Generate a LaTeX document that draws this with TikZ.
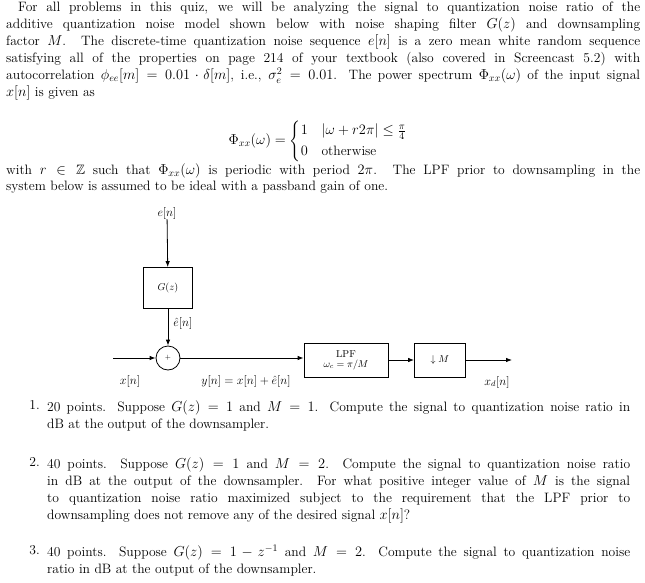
\documentclass[tikz,border=0pt]{standalone}
\usepackage{amsmath,amssymb}
\usetikzlibrary{arrows.meta}
\begin{document}
\begin{tikzpicture}[x=1pt,y=-1pt,
  txt/.style={anchor=north west,inner sep=0,align=justify,font=\fontsize{13.6}{17}\selectfont},
  blk/.style={draw,thick,minimum width=49pt,minimum height=41pt,inner sep=0},
  lab/.style={inner sep=0,font=\fontsize{11.5}{13}\selectfont},
  sig/.style={thick,-{Latex[length=6pt]}}]
\useasboundingbox (0,0) rectangle (645,583);
\node[txt,text width=634pt] (p1) at (6,2) {\hspace*{12pt}For all problems in this quiz, we will be analyzing the signal to quantization noise ratio of the\linebreak
additive quantization noise model shown below with noise shaping filter $G(z)$ and downsampling\linebreak
factor $M$. The discrete-time quantization noise sequence $e[n]$ is a zero mean white random sequence\linebreak
satisfying all of the properties on page 214 of your textbook (also covered in Screencast 5.2) with\linebreak
autocorrelation $\phi_{ee}[m]=0.01\cdot\delta[m]$, i.e., $\sigma_e^2=0.01$. The power spectrum $\Phi_{xx}(\omega)$ of the input signal\linebreak
$x[n]$ is given as};
\node[inner sep=0,font=\fontsize{13.6}{17}\selectfont] (eq) at (318,141) {$\Phi_{xx}(\omega)=\begin{cases}1 & |\omega+r2\pi|\le\frac{\pi}{4}\\ 0 & \text{otherwise}\end{cases}$};
\node[txt,text width=634pt] (p2) at (6,163) {with $r\in\mathbb{Z}$ such that $\Phi_{xx}(\omega)$ is periodic with period $2\pi$. The LPF prior to downsampling in the\linebreak
system below is assumed to be ideal with a passband gain of one.};
% diagram
\node[lab] (en) at (167,213) {$e[n]$};
\node[blk] (G) at (168,288) {$G(z)$};
\node[draw,thick,circle,minimum size=24pt,inner sep=0] (sum) at (168,358) {\scriptsize $+$};
\coordinate (xin) at (113,358);
\node[blk,minimum width=84pt,minimum height=34pt,align=center] (lpf) at (346,360) {LPF\\[-2pt]$\omega_c=\pi/M$};
\node[blk,minimum width=51pt,minimum height=34pt] (ds) at (440,360) {$\downarrow M$};
\coordinate (xout) at (512,360);
\draw[sig] (en) -- (G);
\draw[sig] (G) -- node[lab,right=5pt,pos=0.4]{$\hat e[n]$} (sum);
\draw[sig] (xin) -- (sum);
\draw[sig] (sum.east) -- (lpf.west|-sum.east);
\draw[sig] (lpf) -- (ds);
\draw[sig] (ds) -- (xout);
\node[lab] (xn) at (130,381) {$x[n]$};
\node[lab] (yn) at (246,381) {$y[n]=x[n]+\hat e[n]$};
\node[lab] (xd) at (497,382) {$x_d[n]$};
% list
\node[txt,anchor=north east] (n1) at (40,400) {1.};
\node[txt,text width=583pt] (i1) at (47,400) {20 points. Suppose $G(z)=1$ and $M=1$. Compute the signal to quantization noise ratio in\linebreak dB at the output of the downsampler.};
\node[txt,anchor=north east] (n2) at (40,457) {2.};
\node[txt,text width=583pt] (i2) at (47,457) {40 points. Suppose $G(z)=1$ and $M=2$. Compute the signal to quantization noise ratio\linebreak in dB at the output of the downsampler. For what positive integer value of $M$ is the signal\linebreak to quantization noise ratio maximized subject to the requirement that the LPF prior to\linebreak downsampling does not remove any of the desired signal $x[n]$?};
\node[txt,anchor=north east] (n3) at (40,545) {3.};
\node[txt,text width=583pt] (i3) at (47,545) {40 points. Suppose $G(z)=1-z^{-1}$ and $M=2$. Compute the signal to quantization noise\linebreak ratio in dB at the output of the downsampler.};
\end{tikzpicture}
\end{document}
